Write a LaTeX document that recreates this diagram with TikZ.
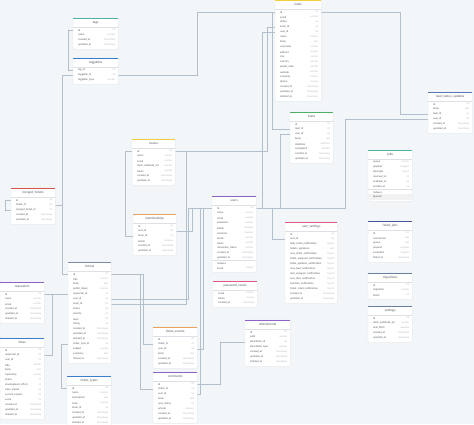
\documentclass[tikz,border=0pt]{standalone}
\usepackage{fontspec}
\setmainfont{Lato}

\pgfdeclarelayer{bg}
\pgfdeclarelayer{lines}
\pgfdeclarelayer{boxes}
\pgfsetlayers{bg,lines,boxes,main}

\definecolor{canvas}{HTML}{F3F6F9}
\definecolor{wirecol}{HTML}{B4BFCC}
\definecolor{framecol}{HTML}{DCE1E7}
\definecolor{fieldtext}{HTML}{55595F}
\definecolor{typetext}{HTML}{B3B8BE}
\definecolor{hdteal}{HTML}{4FB3A9}
\definecolor{hdblue}{HTML}{3D7CC9}
\definecolor{hdyellow}{HTML}{F2CF3A}
\definecolor{hdsteel}{HTML}{5479B5}
\definecolor{hdgreen}{HTML}{4FAE5F}
\definecolor{hdred}{HTML}{D9534F}
\definecolor{hdorange}{HTML}{E9A257}
\definecolor{hdpurple}{HTML}{8E63C4}
\definecolor{hdpink}{HTML}{E2568A}
\definecolor{hdindigo}{HTML}{4A55A2}
\definecolor{hdslate}{HTML}{6B7FA3}
\definecolor{hdgrey}{HTML}{7D8FA8}

\tikzset{
  tabtitle/.style={minimum height=9, inner sep=0, font=\fontsize{3.2}{3.6}\selectfont, text=fieldtext},
  tabrow/.style={minimum height=5, inner sep=0},
  fieldname/.style={anchor=west, inner sep=0, font=\fontsize{2.6}{3}\selectfont, text=fieldtext},
  fieldtype/.style={anchor=east, inner sep=0, font=\fontsize{2.4}{3}\selectfont, text=typetext},
  tabframe/.style={draw=framecol, fill=white, line width=0.3, rounded corners=1},
  tabsep/.style={draw=framecol, line width=0.25},
  wire/.style={draw=wirecol, line width=0.3},
}

% #1 name, #2 top left, #3 width, #4 colour, #5 title, #6 field/type list
\newcommand{\dbtable}[6]{%
  \node [tabtitle, minimum width=#3, anchor=north west] (#1) at #2 {#5};
  \foreach \fld/\typ [count=\i] in {#6} {
    \node [tabrow, minimum width=#3, anchor=north west] (#1-\i) at ([yshift={-(\i-1)*5}]#1.south west) {};
    \node [fieldname] at ([xshift=5]#1-\i.west) {\fld};
    \node [fieldtype] at ([xshift=-3]#1-\i.east) {\typ};
    \xdef\lastrow{\i}
  }
  \begin{pgfonlayer}{boxes}
    \draw [tabframe] (#1.north west) rectangle ([yshift=-1.5]#1-\lastrow.south east);
  \end{pgfonlayer}
  \draw [tabsep] (#1.south west) -- (#1.south east);
  \draw [#4, line width=1.3] ([yshift=-0.65]#1.north west) -- ([yshift=-0.65]#1.north east);
}

\begin{document}
\begin{tikzpicture}[x=1pt,y=-1pt]
\useasboundingbox (0,0) rectangle (474,424);
\begin{pgfonlayer}{bg}
\fill [canvas] (0,0) rectangle (474,424);
\end{pgfonlayer}

\dbtable{tags}{(73,18)}{45}{hdteal}{tags}{id/int, name/varchar, created\_at/timestamp, updated\_at/timestamp}
\dbtable{taggables}{(73,58)}{45}{hdblue}{taggables}{tag\_id/int, taggable\_id/int, taggable\_type/varchar}
\dbtable{leads}{(275,0)}{46}{hdyellow}{leads}{id/int, email/varchar, status/int, team\_id/int, user\_id/int, name/varchar, body/text, username/varchar, address/varchar, city/varchar, country/varchar, postal\_code/varchar, website/varchar, company/varchar, phone/varchar, created\_at/timestamp, updated\_at/timestamp, deleted\_at/timestamp}
\dbtable{lead_status_updates}{(428,92)}{44}{hdsteel}{lead\_status\_updates}{id/int, body/text, lead\_id/int, user\_id/int, created\_at/timestamp, updated\_at/timestamp}
\dbtable{tasks}{(290,112)}{43}{hdgreen}{tasks}{id/int, lead\_id/int, user\_id/int, body/text, datetime/datetime, completed/boolean, created\_at/timestamp, updated\_at/timestamp}
\dbtable{jobs}{(368,150)}{44}{hdteal}{jobs}{queue/varchar, payload/longtext, attempts/tinyint, reserved\_at/int, available\_at/int, created\_at/int, Indexes/{}, (queue)/{}}
\dbtable{teams}{(132,139)}{43}{hdyellow}{teams}{id/int, name/varchar, email/varchar, slack\_webhook\_url/varchar, token/varchar, created\_at/timestamp, updated\_at/timestamp}
\dbtable{merged_tickets}{(11,188)}{44}{hdred}{merged\_tickets}{id/int, ticket\_id/int, merged\_ticket\_id/int, created\_at/timestamp, updated\_at/timestamp}
\dbtable{memberships}{(133,214)}{43}{hdorange}{memberships}{id/int, user\_id/int, team\_id/int, admin/boolean, created\_at/timestamp, updated\_at/timestamp}
\dbtable{users}{(212,196)}{44}{hdpurple}{users}{id/int, name/varchar, email/varchar, password/varchar, admin/boolean, assistant/boolean, locale/varchar, token/varchar, remember\_token/varchar, created\_at/timestamp, updated\_at/timestamp, Indexes/{}, email/unique}
\dbtable{user_settings}{(285,222)}{52}{hdpink}{user\_settings}{id/int, user\_id/int, daily\_tasks\_notification/tinyint, tickets\_signature/text, new\_ticket\_notification/tinyint, ticket\_assigned\_notification/tinyint, ticket\_updated\_notification/tinyint, new\_lead\_notification/tinyint, lead\_assigned\_notification/tinyint, new\_idea\_notification/tinyint, mention\_notification/tinyint, ticket\_rated\_notification/tinyint, created\_at/timestamp, updated\_at/timestamp}
\dbtable{failed_jobs}{(368,221)}{44}{hdindigo}{failed\_jobs}{id/int, connection/text, queue/text, payload/longtext, exception/longtext, failed\_at/timestamp}
\dbtable{migrations}{(368,273)}{44}{hdslate}{migrations}{id/int, migration/varchar, batch/int}
\dbtable{settings}{(368,306)}{44}{hdslate}{settings}{id/int, slack\_webhook\_url/varchar, mail\_fetch/boolean, created\_at/timestamp, updated\_at/timestamp}
\dbtable{password_resets}{(213,281)}{44}{hdpink}{password\_resets}{email/varchar, token/varchar, created\_at/timestamp}
\dbtable{requesters}{(0,282)}{44}{hdpurple}{requesters}{id/int, name/varchar, email/varchar, created\_at/timestamp, updated\_at/timestamp, deleted\_at/timestamp}
\dbtable{tickets}{(68,262)}{43}{hdgrey}{tickets}{id/int, title/varchar, body/text, public\_token/varchar, requester\_id/int, user\_id/int, team\_id/int, status/int, priority/int, level/int, rating/int, created\_at/timestamp, updated\_at/timestamp, deleted\_at/timestamp, ticket\_type\_id/int, subject/varchar, summary/text, closed\_at/timestamp}
\dbtable{ideas}{(0,338)}{44}{hdblue}{ideas}{id/int, requester\_id/int, user\_id/int, title/varchar, body/text, repository/varchar, status/int, development\_effort/int, sales\_impact/int, current\_impact/int, score/int, created\_at/timestamp, updated\_at/timestamp, deleted\_at/timestamp}
\dbtable{ticket_types}{(67,376)}{44}{hdblue}{ticket\_types}{id/int, name/varchar, description/text, color/varchar, team\_id/int, created\_at/timestamp, updated\_at/timestamp, deleted\_at/timestamp}
\dbtable{ticket_events}{(153,327)}{44}{hdorange}{ticket\_events}{id/int, ticket\_id/int, user\_id/int, body/text, created\_at/timestamp, updated\_at/timestamp}
\dbtable{comments}{(153,372)}{44}{hdpurple}{comments}{id/int, ticket\_id/int, user\_id/int, body/text, new\_status/int, private/boolean, created\_at/timestamp, updated\_at/timestamp}
\dbtable{attachments}{(245,320)}{45}{hdpurple}{attachments}{id/int, path/varchar, attachable\_id/int, attachable\_type/varchar, created\_at/timestamp, updated\_at/timestamp, deleted\_at/timestamp}

\draw [tabsep] (users-12.north west) -- (users-12.north east);
\draw [tabsep] (jobs-7.north west) -- (jobs-7.north east);
\begin{pgfonlayer}{boxes}
\fill [black!5] (jobs-8.north west) rectangle (jobs-8.south east);
\end{pgfonlayer}

\begin{pgfonlayer}{lines}
\draw [wire] (tags-1.west) -- ++(-5,0) |- (taggables-1.west);
\draw [wire] (taggables-2.west) -- ++(-11,0) |- (tickets-1.west);
\draw [wire] (taggables-2.east) -- ++(79,0) |- (leads-1.west);
\draw [wire] (merged_tickets-2.east) -- ++(7,0) |- (tickets-1.west);
\draw [wire] (merged_tickets-1.west) -- ++(-6,0) |- (merged_tickets-3.west);
\draw [wire] (requesters-1.east) -- (tickets-5.west);
\draw [wire] (ideas-2.east) -- ++(8,0) |- (requesters-1.east);
\draw [wire] (tickets-15.west) -- ++(-7,0) |- (ticket_types-1.west);
\draw [wire] (tickets-6.east) -- ++(77,0) |- (users-1.west);
\draw [wire] (tickets-7.east) -- ++(75,0) |- (teams-1.east);
\draw [wire] (teams-1.west) -- ++(-7,0) |- (memberships-3.west);
\draw [wire] (memberships-2.east) -- ++(16,0) |- (users-1.west);
\draw [wire] (ticket_events-2.west) -- ++(-10,0) |- (tickets-1.east);
\draw [wire] (comments-2.west) -- ++(-13,0) |- (tickets-1.east);
\draw [wire] (ticket_events-3.east) -- ++(6,0) |- (users-1.west);
\draw [wire] (comments-3.east) -- ++(3,0) |- (users-1.west);
\draw [wire] (attachments-3.west) -- ++(-25,0) |- (comments-1.east);
\draw [wire] (leads-5.west) -- ++(-13,0) |- (users-1.east);
\draw [wire] (leads-4.west) -- ++(-8,0) |- (teams-1.east);
\draw [wire] (tasks-2.west) -- ++(-18,0) |- (leads-1.west);
\draw [wire] (tasks-3.west) -- ++(-10,0) |- (users-1.east);
\draw [wire] (lead_status_updates-3.west) -- ++(-28,0) |- (leads-1.east);
\draw [wire] (lead_status_updates-4.west) -- ++(-83,0) |- (users-1.east);
\draw [wire] (user_settings-2.west) -- ++(-13,0) |- (users-1.east);
\end{pgfonlayer}
\end{tikzpicture}
\end{document}
